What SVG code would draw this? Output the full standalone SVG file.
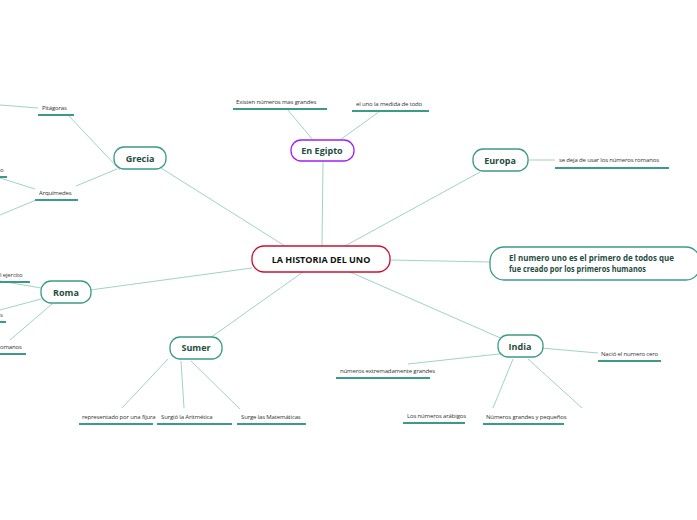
<svg xmlns="http://www.w3.org/2000/svg" width="697" height="520" viewBox="0 0 697 520">
<style>
.c{stroke:#9fd3c7;stroke-width:1;fill:none}
.u{stroke:#3c9a85;stroke-width:2}
.n{fill:#fff;stroke:#3c9a85;stroke-width:1.3}
.t{font-family:"Open Sans","Noto Sans",sans-serif;font-size:6px;letter-spacing:-0.15px;fill:#333}
.b{font-family:"Open Sans","Noto Sans",sans-serif;font-size:9px;font-weight:bold;fill:#1f4d3f;text-anchor:middle}
.l{text-anchor:start}
</style>
<rect width="697" height="520" fill="#fff"/>
<g id="connectors">
<line class="c" x1="285" y1="246" x2="161" y2="168"/>
<line class="c" x1="322" y1="246" x2="323" y2="161"/>
<line class="c" x1="345" y1="246" x2="480" y2="172"/>
<line class="c" x1="390" y1="260" x2="490" y2="262"/>
<line class="c" x1="252" y1="268" x2="90" y2="290"/>
<line class="c" x1="303" y1="272" x2="210" y2="338"/>
<line class="c" x1="350" y1="272" x2="505" y2="340"/>
<line class="c" x1="313" y1="140" x2="287" y2="109"/>
<line class="c" x1="340" y1="140" x2="380" y2="111"/>
<line class="c" x1="528" y1="160" x2="555" y2="160"/>
<line class="c" x1="120" y1="170" x2="68" y2="115"/>
<line class="c" x1="117" y1="169" x2="76" y2="186"/>
<line class="c" x1="0" y1="105" x2="38" y2="108"/>
<line class="c" x1="0" y1="178" x2="35" y2="189"/>
<line class="c" x1="36" y1="200" x2="0" y2="215"/>
<line class="c" x1="41" y1="288" x2="0" y2="281"/>
<line class="c" x1="41" y1="299" x2="0" y2="310"/>
<line class="c" x1="52" y1="304" x2="10" y2="340"/>
<line class="c" x1="168" y1="359" x2="122" y2="408"/>
<line class="c" x1="181" y1="361" x2="184" y2="408"/>
<line class="c" x1="191" y1="361" x2="240" y2="409"/>
<line class="c" x1="541" y1="348" x2="598" y2="353"/>
<line class="c" x1="508" y1="353" x2="408" y2="364"/>
<line class="c" x1="513" y1="359" x2="493" y2="408"/>
<line class="c" x1="528" y1="359" x2="582" y2="408"/>
</g>
<g id="underlines">
<line class="u" x1="38" y1="115" x2="74" y2="115"/>
<line class="u" x1="35" y1="200" x2="78" y2="200"/>
<line class="u" x1="0" y1="177" x2="7" y2="177"/>
<line class="u" x1="233" y1="109" x2="327" y2="109"/>
<line class="u" x1="352" y1="111" x2="429" y2="111"/>
<line class="u" x1="555" y1="168" x2="669" y2="168"/>
<line class="u" x1="0" y1="282" x2="30" y2="282"/>
<line class="u" x1="0" y1="322" x2="6" y2="322"/>
<line class="u" x1="0" y1="354" x2="26" y2="354"/>
<line class="u" x1="79" y1="424" x2="153" y2="424"/>
<line class="u" x1="157" y1="424" x2="232" y2="424"/>
<line class="u" x1="237" y1="424" x2="306" y2="424"/>
<line class="u" x1="336" y1="378" x2="430" y2="378"/>
<line class="u" x1="598" y1="361" x2="661" y2="361"/>
<line class="u" x1="403" y1="423" x2="465" y2="423"/>
<line class="u" x1="483" y1="424" x2="564" y2="424"/>
</g>
<g id="texts">
<text class="t" x="42" y="110">Pitágoras</text>
<text class="t" x="39" y="195">Arquímedes</text>
<text class="t" x="0" y="172">o</text>
<text class="t" x="236" y="104">Existen números mas grandes</text>
<text class="t" x="356" y="106">el uno la medida de todo</text>
<text class="t" x="559" y="162">se deja de usar los números romanos</text>
<text class="t" x="0" y="277">l ejercito</text>
<text class="t" x="0" y="317">s</text>
<text class="t" x="0" y="349">omanos</text>
<text class="t" x="82" y="419">representado por una fijura</text>
<text class="t" x="161" y="419">Surgió la Aritmética</text>
<text class="t" x="241" y="419">Surge las Matemáticas</text>
<text class="t" x="340" y="373">números extremadamente grandes</text>
<text class="t" x="601" y="356">Nació el numero cero</text>
<text class="t" x="407" y="418">Los números arábigos</text>
<text class="t" x="486" y="419">Números grandes y pequeños</text>
</g>
<g id="center"><rect x="252" y="246" width="138" height="26" rx="12" fill="#fff" stroke="#c8102e" stroke-width="1.3"/><text class="b" x="321" y="263" style="fill:#111">LA HISTORIA DEL UNO</text></g>
<g id="egipto"><rect x="291" y="140" width="63" height="21" rx="10" fill="#fff" stroke="#a020f0" stroke-width="1.3"/><text class="b" x="322" y="154" font-size="8">En Egipto</text></g>
<g id="europa"><rect x="473" y="149" width="55" height="22" rx="10" class="n"/><text class="b" x="500" y="164" font-size="8">Europa</text></g>
<g id="info"><rect x="490" y="247" width="210" height="33" rx="14" class="n"/><text class="b l" x="509" y="261" font-size="7.5" textLength="165" lengthAdjust="spacingAndGlyphs">El numero uno es el primero de todos que</text><text class="b l" x="509" y="272" font-size="7.5" textLength="137" lengthAdjust="spacingAndGlyphs">fue creado por los primeros humanos</text></g>
<g id="grecia"><rect x="114" y="147" width="52" height="22" rx="10" class="n"/><text class="b" x="140" y="162" font-size="8">Grecia</text></g>
<g id="roma"><rect x="41" y="281" width="50" height="22" rx="10" class="n"/><text class="b" x="66" y="296" font-size="8">Roma</text></g>
<g id="sumer"><rect x="170" y="337" width="52" height="22" rx="10" class="n"/><text class="b" x="196" y="351" font-size="8">Sumer</text></g>
<g id="india"><rect x="498" y="335" width="45" height="22" rx="10" class="n"/><text class="b" x="520" y="350" font-size="8">India</text></g>
</svg>
